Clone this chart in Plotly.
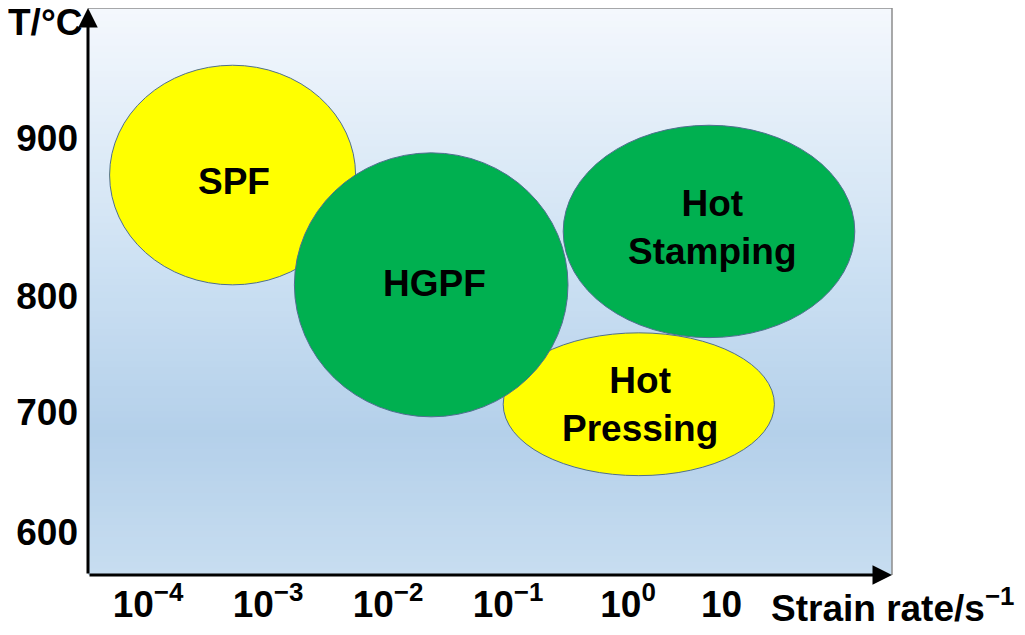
import plotly.graph_objects as go

# forming regions: name, strain rate range (log10 s^-1), temperature range (schematic °C)
regions = ["SPF", "Hot Stamping", "Hot Pressing", "HGPF"]
region_labels = ["SPF", "Hot<br>Stamping", "Hot<br>Pressing", "HGPF"]
rate_lo = [-4.32, -0.54, -1.04, -2.78]
rate_hi = [-2.27, 1.89, 1.22, -0.50]
temp_lo = [806, 762, 647, 696]
temp_hi = [989, 939, 766, 916]
label_rate = [-3.28, 0.70, 0.10, -1.61]
label_temp = [892, 854, 706, 807]
fill_colors = ["#ffff00", "#00b050", "#ffff00", "#00b050"]

# axis ticks (schematic, not to scale)
x_tick_pos = [-4, -3, -2, -1, 0, 0.78]
x_tick_text = ["10<sup>−4</sup>", "10<sup>−3</sup>", "10<sup>−2</sup>",
               "10<sup>−1</sup>", "10<sup>0</sup>", "10"]
y_tick_pos = [600, 700, 797, 928]
y_tick_text = ["600", "700", "800", "900"]

FONT = "Liberation Sans, Arial, sans-serif"
bold = dict(family=FONT, size=37, color="black", weight="bold")

fig = go.Figure()

# background gradient (top light -> blue -> lighter at bottom)
stops = [(0.0, (199, 221, 240)), (0.25, (180, 208, 234)), (0.55, (205, 225, 243)),
         (1.0, (244, 248, 253))]


def grad(t):
    for (t0, c0), (t1, c1) in zip(stops[:-1], stops[1:]):
        if t0 <= t <= t1:
            f = (t - t0) / (t1 - t0)
            return "rgb(%d,%d,%d)" % tuple(round(a + (b - a) * f) for a, b in zip(c0, c1))
    return "rgb(%d,%d,%d)" % stops[-1][1]


n = 90
for i in range(n):
    fig.add_shape(type="rect", xref="x domain", yref="y domain",
                  x0=0, x1=1, y0=i / n, y1=(i + 1) / n + 0.002,
                  fillcolor=grad((i + 0.5) / n), line_width=0, layer="below")

for name, x0, x1, y0, y1, col in zip(regions, rate_lo, rate_hi, temp_lo, temp_hi, fill_colors):
    fig.add_shape(type="circle", xref="x", yref="y", x0=x0, x1=x1, y0=y0, y1=y1,
                  fillcolor=col, line=dict(color="#4f6f8f", width=1), layer="above",
                  name=name)

for txt, x, y in zip(region_labels, label_rate, label_temp):
    fig.add_annotation(x=x, y=y, text=txt, showarrow=False, font=bold)

# frame: grey top/right, black arrowed axes
fig.add_shape(type="line", xref="x domain", yref="y domain", x0=0, x1=1, y0=1, y1=1,
              line=dict(color="#8c8c8c", width=1.5))
fig.add_shape(type="line", xref="x domain", yref="y domain", x0=1, x1=1, y0=0, y1=1,
              line=dict(color="#8c8c8c", width=1.5))
fig.add_annotation(xref="x domain", yref="y domain", axref="x domain", ayref="y domain",
                   x=0, y=1, ax=0, ay=0, text="", showarrow=True,
                   arrowhead=2, arrowsize=1.3, arrowwidth=3, arrowcolor="black")
fig.add_annotation(xref="x domain", yref="y domain", axref="x domain", ayref="y domain",
                   x=1, y=0, ax=0, ay=0, text="", showarrow=True,
                   arrowhead=2, arrowsize=1.3, arrowwidth=3, arrowcolor="black")

fig.add_annotation(xref="paper", yref="paper", x=0, y=1, xshift=-82, yshift=-14,
                   xanchor="left", yanchor="middle", text="T/°C", showarrow=False,
                   font=bold)
fig.add_annotation(xref="paper", yref="paper", x=1, y=0, xshift=-123, yshift=-30,
                   xanchor="left", yanchor="middle", text="Strain rate/s<sup>−1</sup>",
                   showarrow=False, font=bold)

fig.update_xaxes(range=[-4.5, 2.2], tickvals=x_tick_pos, ticktext=x_tick_text,
                 showgrid=False, zeroline=False, ticks="", automargin=False,
                 ticklabelstandoff=4, tickfont=bold)
fig.update_yaxes(range=[564.2, 1036.7], tickvals=y_tick_pos, ticktext=y_tick_text,
                 showgrid=False, zeroline=False, ticks="", automargin=False,
                 ticklabelstandoff=9, tickfont=bold)

# page body adds an 8px offset, margins compensate for it
fig.update_layout(width=1025, height=635, margin=dict(l=80, r=141, t=0, b=68),
                  paper_bgcolor="white", plot_bgcolor="white", showlegend=False)

fig.write_html("out.html")
